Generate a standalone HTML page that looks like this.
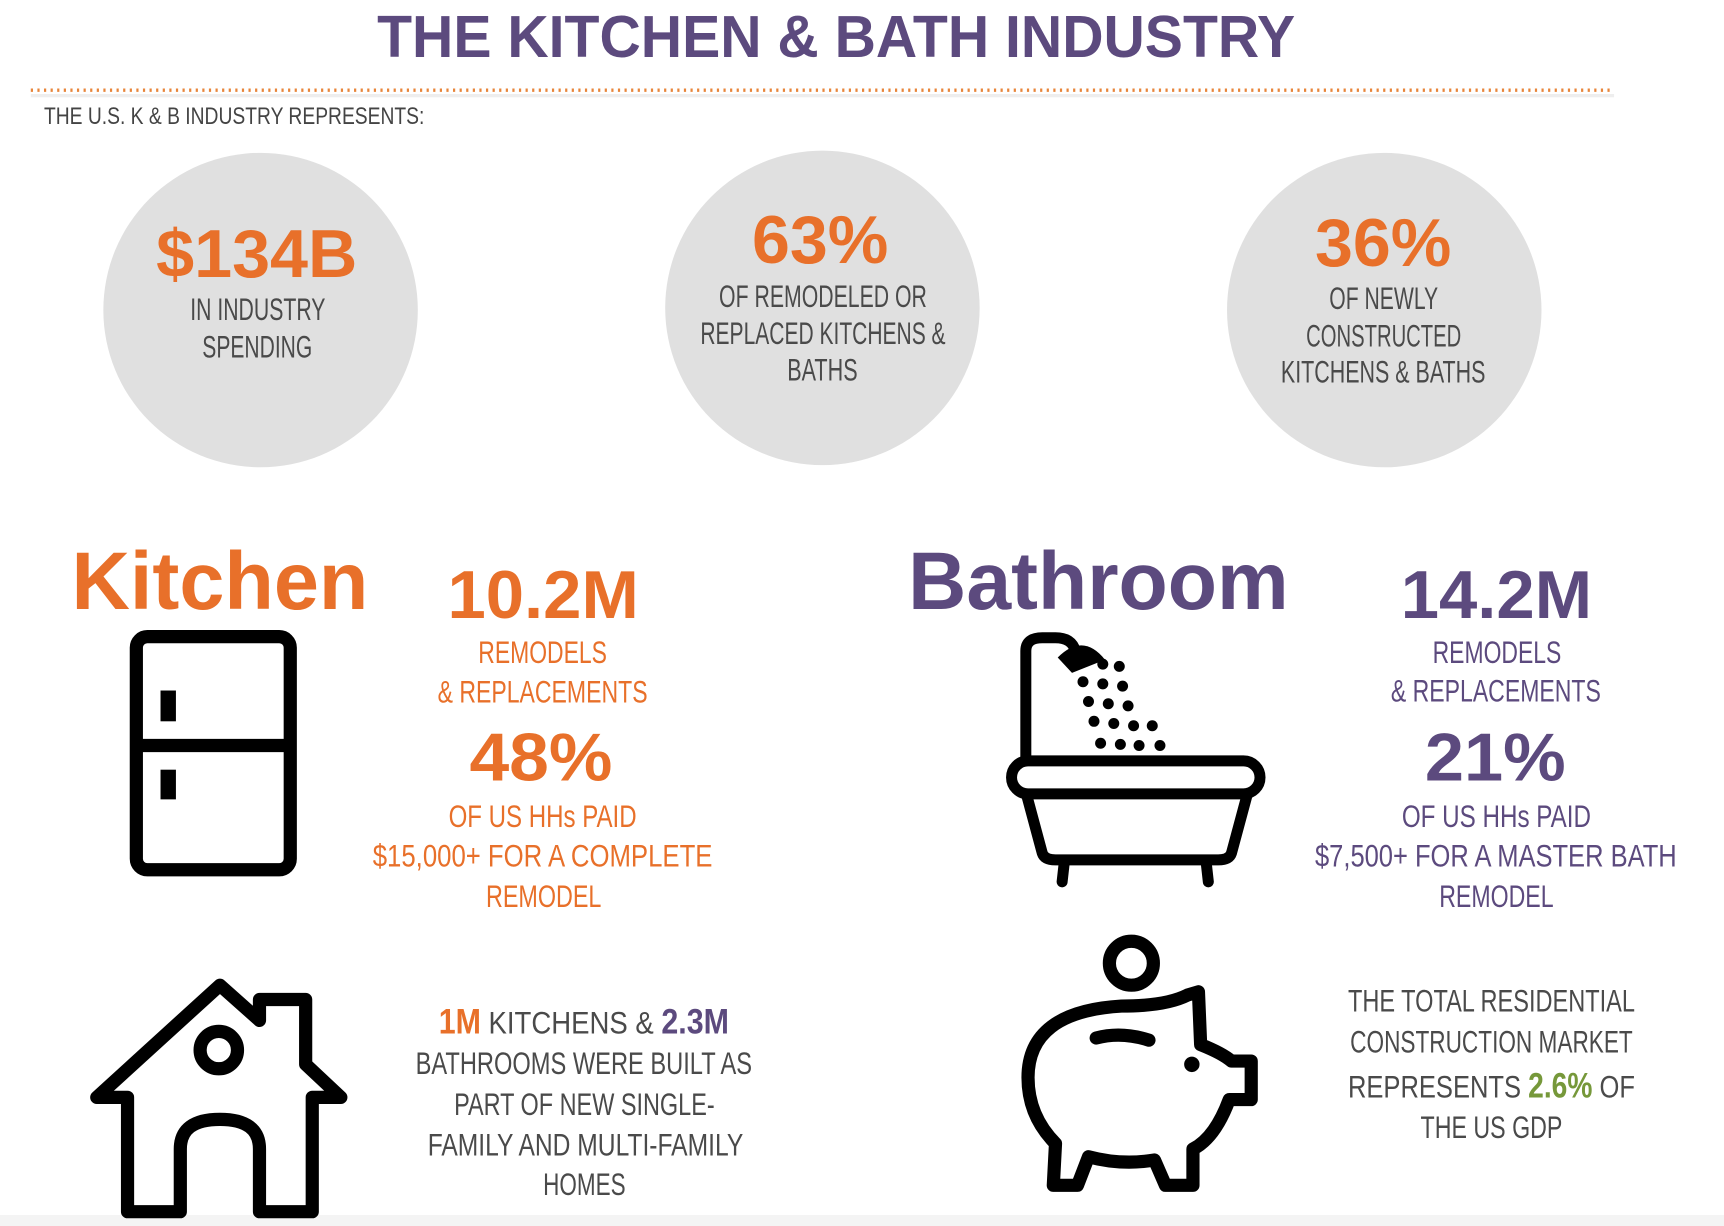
<!DOCTYPE html>
<html><head><meta charset="utf-8"><style>
html,body{margin:0;padding:0;background:#fff;}
svg{display:block}
text{font-family:"Liberation Sans",sans-serif}
.c{font-size:29px;fill:#4a4a4a}
.o{fill:#e8702a}
.p{fill:#5c4a7e}
.b{font-weight:bold}
</style></head><body>
<svg width="1724" height="1226" viewBox="0 0 1568 1115" preserveAspectRatio="none" xmlns="http://www.w3.org/2000/svg">
<rect width="1568" height="1115" fill="#fff"/>
<rect y="1105" width="1568" height="10" fill="#f4f4f4"/>
<text x="343" y="52" class="b p" font-size="54" textLength="835" lengthAdjust="spacingAndGlyphs">THE KITCHEN &amp; BATH INDUSTRY</text>
<line x1="28" y1="82" x2="1468" y2="82" stroke="#e8853a" stroke-width="3" stroke-dasharray="2 4"/>
<line x1="28" y1="87" x2="1468" y2="87" stroke="#eee" stroke-width="3"/>
<text x="40" y="113" font-size="22" fill="#444" textLength="346" lengthAdjust="spacingAndGlyphs">THE U.S. K &amp; B INDUSTRY REPRESENTS:</text>

<circle cx="237" cy="282" r="143" fill="#e0e0e0"/>
<circle cx="748" cy="280" r="143" fill="#e0e0e0"/>
<circle cx="1259" cy="282" r="143" fill="#e0e0e0"/>

<g class="b o" font-size="62">
<text x="142" y="252" textLength="183" lengthAdjust="spacingAndGlyphs">$134B</text>
<text x="684" y="239" textLength="124" lengthAdjust="spacingAndGlyphs">63%</text>
<text x="1196" y="242" textLength="124" lengthAdjust="spacingAndGlyphs">36%</text>
</g>
<g class="c">
<text x="173" y="291" textLength="123" lengthAdjust="spacingAndGlyphs">IN INDUSTRY</text>
<text x="184" y="325" textLength="100" lengthAdjust="spacingAndGlyphs">SPENDING</text>
<text x="654" y="279" textLength="189" lengthAdjust="spacingAndGlyphs">OF REMODELED OR</text>
<text x="637" y="313" textLength="223" lengthAdjust="spacingAndGlyphs">REPLACED KITCHENS &amp;</text>
<text x="716" y="346" textLength="64" lengthAdjust="spacingAndGlyphs">BATHS</text>
<text x="1209" y="281" textLength="99" lengthAdjust="spacingAndGlyphs">OF NEWLY</text>
<text x="1188" y="315" textLength="141" lengthAdjust="spacingAndGlyphs">CONSTRUCTED</text>
<text x="1165" y="348" textLength="186" lengthAdjust="spacingAndGlyphs">KITCHENS &amp; BATHS</text>
</g>

<!-- Kitchen -->
<text x="65" y="554" class="b o" font-size="74" textLength="270" lengthAdjust="spacingAndGlyphs">Kitchen</text>
<text x="407" y="562" class="b o" font-size="62" textLength="174" lengthAdjust="spacingAndGlyphs">10.2M</text>
<g class="c o">
<text x="435" y="603" textLength="117" lengthAdjust="spacingAndGlyphs">REMODELS</text>
<text x="398" y="639" textLength="191" lengthAdjust="spacingAndGlyphs">&amp; REPLACEMENTS</text>
<text x="408" y="752" textLength="171" lengthAdjust="spacingAndGlyphs">OF US HHs PAID</text>
<text x="339" y="788" textLength="309" lengthAdjust="spacingAndGlyphs">$15,000+ FOR A COMPLETE</text>
<text x="442" y="825" textLength="105" lengthAdjust="spacingAndGlyphs">REMODEL</text>
</g>
<text x="427" y="710" class="b o" font-size="62" textLength="130" lengthAdjust="spacingAndGlyphs">48%</text>

<!-- Bathroom -->
<text x="826" y="554" class="b p" font-size="74" textLength="346" lengthAdjust="spacingAndGlyphs">Bathroom</text>
<text x="1274" y="562" class="b p" font-size="62" textLength="174" lengthAdjust="spacingAndGlyphs">14.2M</text>
<g class="c p">
<text x="1303" y="603" textLength="117" lengthAdjust="spacingAndGlyphs">REMODELS</text>
<text x="1265" y="638" textLength="191" lengthAdjust="spacingAndGlyphs">&amp; REPLACEMENTS</text>
<text x="1275" y="752" textLength="172" lengthAdjust="spacingAndGlyphs">OF US HHs PAID</text>
<text x="1196" y="788" textLength="329" lengthAdjust="spacingAndGlyphs">$7,500+ FOR A MASTER BATH</text>
<text x="1309" y="825" textLength="104" lengthAdjust="spacingAndGlyphs">REMODEL</text>
</g>
<text x="1296" y="710" class="b p" font-size="62" textLength="128" lengthAdjust="spacingAndGlyphs">21%</text>

<!-- bottom texts -->
<g class="c">
<text x="399" y="940" textLength="264" lengthAdjust="spacingAndGlyphs"><tspan class="b o" font-size="32">1M</tspan> KITCHENS &amp; <tspan class="b p" font-size="32">2.3M</tspan></text>
<text x="378" y="977" textLength="306" lengthAdjust="spacingAndGlyphs">BATHROOMS WERE BUILT AS</text>
<text x="413" y="1014" textLength="237" lengthAdjust="spacingAndGlyphs">PART OF NEW SINGLE-</text>
<text x="389" y="1051" textLength="287" lengthAdjust="spacingAndGlyphs">FAMILY AND MULTI-FAMILY</text>
<text x="494" y="1087" textLength="75" lengthAdjust="spacingAndGlyphs">HOMES</text>
<text x="1226" y="920" textLength="261" lengthAdjust="spacingAndGlyphs">THE TOTAL RESIDENTIAL</text>
<text x="1228" y="957" textLength="257" lengthAdjust="spacingAndGlyphs">CONSTRUCTION MARKET</text>
<text x="1226" y="998" textLength="261" lengthAdjust="spacingAndGlyphs">REPRESENTS <tspan class="b" fill="#76983a" font-size="32">2.6%</tspan> OF</text>
<text x="1292" y="1035" textLength="129" lengthAdjust="spacingAndGlyphs">THE US GDP</text>
</g>

<!-- Fridge -->
<g fill="none" stroke="#000" stroke-width="12">
<rect x="124" y="579" width="140" height="212" rx="10"/>
<line x1="124" y1="678" x2="264" y2="678"/>
</g>
<rect x="146" y="628" width="14" height="28" fill="#000"/>
<rect x="146" y="700" width="14" height="27" fill="#000"/>

<!-- Bathtub -->
<g fill="none" stroke="#000" stroke-width="10" stroke-linecap="round">
<rect x="920" y="692" width="226" height="30" rx="15"/>
<path d="M934 724 L948 776 Q950 782 960 782 L1108 782 Q1118 782 1120 776 L1134 724"/>
<path d="M968 784 L966 802 M1097 784 L1099 802"/>
<path d="M933 690 L933 592 Q933 580 948 580 L960 580 Q975 580 978 592"/>
</g>
<path d="M962 598 Q985 575 1005 600 L975 612 Z" fill="#000"/>
<g fill="#000">
<circle cx="1003" cy="604" r="5"/><circle cx="1018" cy="606" r="5"/>
<circle cx="985" cy="620" r="5"/><circle cx="1003" cy="622" r="5"/><circle cx="1021" cy="624" r="5"/>
<circle cx="990" cy="638" r="5"/><circle cx="1008" cy="640" r="5"/><circle cx="1026" cy="642" r="5"/>
<circle cx="995" cy="656" r="5"/><circle cx="1013" cy="658" r="5"/><circle cx="1031" cy="660" r="5"/><circle cx="1048" cy="660" r="5"/>
<circle cx="1001" cy="676" r="5"/><circle cx="1019" cy="677" r="5"/><circle cx="1036" cy="678" r="5"/><circle cx="1055" cy="678" r="5"/>
</g>

<!-- House -->
<g fill="none" stroke="#000" stroke-width="12" stroke-linejoin="round">
<path d="M88 998 L200 896 L236 928 L236 909 L278 909 L278 968 L310 998 L284 998 L284 1102 L236 1102 L236 1045 Q236 1018 200 1018 Q164 1018 164 1045 L164 1102 L116 1102 L116 998 Z"/>
<circle cx="199" cy="955" r="17"/>
</g>

<!-- Piggy -->
<g fill="none" stroke="#000" stroke-width="12" stroke-linejoin="round" stroke-linecap="round">
<circle cx="1029" cy="876" r="20"/>
<path d="M1080 905 L1090 902 L1092 950 Q1112 958 1120 965 L1138 965 L1138 1000 L1118 1000 Q1105 1035 1085 1045 L1085 1078 L1060 1078 L1050 1055 Q1020 1060 990 1052 L980 1078 L958 1078 L960 1040 Q935 1015 935 980 Q935 920 1020 915 Q1060 915 1080 905 Z"/>
<path d="M997 944 Q1020 938 1045 946"/>
</g>
<circle cx="1084" cy="968" r="7" fill="#000"/>
</svg>
</body></html>
